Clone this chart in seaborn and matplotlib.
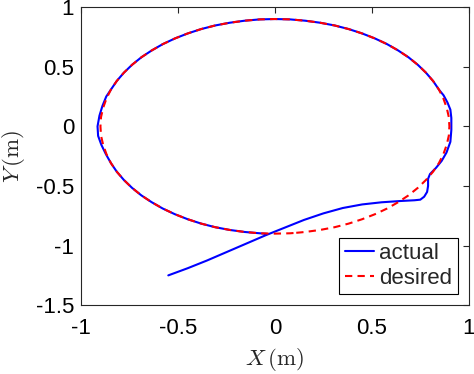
"""Trajectoire suivie vs trajectoire désirée (plan XY)."""

import matplotlib
matplotlib.use('Agg')
import matplotlib.pyplot as plt
import seaborn as sns

# Trajectoire désirée
desired_x = [0.11, 0.156, 0.233, 0.308, 0.380, 0.45, 0.516, 0.579, 0.636, 0.689, 0.737,
             0.779, 0.816, 0.846, 0.869, 0.886, 0.897, 0.9,
             0.897, 0.886, 0.869, 0.846, 0.816, 0.779, 0.737, 0.689, 0.636, 0.579,
             0.516, 0.45, 0.380, 0.308, 0.233, 0.156, 0.078, 0.0,
             -0.078, -0.156, -0.233, -0.308, -0.380, -0.45, -0.516, -0.579, -0.636,
             -0.689, -0.737, -0.779, -0.816, -0.846, -0.869, -0.886, -0.897, -0.9,
             -0.897, -0.886, -0.869, -0.846, -0.816, -0.779, -0.737, -0.689, -0.636,
             -0.579, -0.516, -0.45, -0.380, -0.308, -0.233, -0.156, -0.078, 0.0,
             0.078, 0.11]
desired_y = [-0.893, -0.886, -0.869, -0.846, -0.816, -0.779, -0.737, -0.689, -0.636,
             -0.579, -0.516, -0.45, -0.380, -0.308, -0.233, -0.156, -0.078, 0.0,
             0.078, 0.156, 0.233, 0.308, 0.380, 0.45, 0.516, 0.579, 0.636, 0.689,
             0.737, 0.779, 0.816, 0.846, 0.869, 0.886, 0.897, 0.9,
             0.897, 0.886, 0.869, 0.846, 0.816, 0.779, 0.737, 0.689, 0.636, 0.579,
             0.516, 0.45, 0.380, 0.308, 0.233, 0.156, 0.078, 0.0,
             -0.078, -0.156, -0.233, -0.308, -0.380, -0.45, -0.516, -0.579, -0.636,
             -0.689, -0.737, -0.779, -0.816, -0.846, -0.869, -0.886, -0.897, -0.9,
             -0.897, -0.893]

# Trajectoire réelle
actual_x = [-0.55, -0.45, -0.35, -0.25, -0.15, -0.05, 0.05, 0.15, 0.25, 0.35, 0.45,
            0.55, 0.65, 0.72, 0.75, 0.77, 0.785, 0.79, 0.79, 0.80, 0.83, 0.86, 0.885,
            0.905, 0.91, 0.91, 0.905, 0.89, 0.87, 0.846, 0.816, 0.779, 0.737, 0.689,
            0.636, 0.579, 0.516, 0.45, 0.380, 0.308, 0.233, 0.156, 0.078, 0.0,
            -0.078, -0.156, -0.233, -0.308, -0.380, -0.45, -0.516, -0.579, -0.636,
            -0.689, -0.737, -0.779, -0.816, -0.846, -0.87, -0.89, -0.905, -0.915,
            -0.912, -0.895, -0.872, -0.846, -0.816, -0.779, -0.737, -0.689, -0.636,
            -0.579, -0.516, -0.45, -0.380, -0.308, -0.233, -0.156, -0.078, -0.04]
actual_y = [-1.25, -1.19, -1.125, -1.055, -0.985, -0.915, -0.85, -0.785, -0.73, -0.685,
            -0.655, -0.637, -0.626, -0.62, -0.615, -0.59, -0.55, -0.5, -0.44, -0.40,
            -0.35, -0.29, -0.22, -0.13, -0.03, 0.07, 0.14, 0.2, 0.26, 0.308, 0.380,
            0.45, 0.516, 0.579, 0.636, 0.689, 0.737, 0.779, 0.816, 0.846, 0.869,
            0.886, 0.897, 0.9, 0.897, 0.886, 0.869, 0.846, 0.816, 0.779, 0.737, 0.689,
            0.636, 0.579, 0.516, 0.45, 0.380, 0.308, 0.25, 0.17, 0.09, 0.0, -0.08,
            -0.156, -0.233, -0.308, -0.380, -0.45, -0.516, -0.579, -0.636, -0.689,
            -0.737, -0.779, -0.816, -0.846, -0.869, -0.886, -0.897, -0.902]

x_ticks = [-1, -0.5, 0, 0.5, 1]
x_labels = ['-1', '-0.5', '0', '0.5', '1']
y_ticks = [-1.5, -1, -0.5, 0, 0.5, 1]
y_labels = ['-1.5', '-1', '-0.5', '0', '0.5', '1']


def main():
    sns.set_style('white')
    plt.rcParams['font.family'] = ['Liberation Sans', 'DejaVu Sans']
    plt.rcParams['mathtext.fontset'] = 'cm'
    plt.rcParams['axes.unicode_minus'] = False

    fig = plt.figure(figsize=(4.74, 3.74), dpi=100)
    ax = fig.add_axes([0.171, 0.184, 0.818, 0.797])

    sns.lineplot(x=actual_x, y=actual_y, sort=False, estimator=None, ax=ax,
                 color='#0000ff', linewidth=1.5, label='actual')
    sns.lineplot(x=desired_x, y=desired_y, sort=False, estimator=None, ax=ax,
                 color='#ff0000', linewidth=1.5, label='desired')
    ax.lines[1].set_dashes((3.5, 2.5))

    ax.set_xlim(-1, 1)
    ax.set_ylim(-1.5, 1)
    ax.set_xticks(x_ticks)
    ax.set_xticklabels(x_labels)
    ax.set_yticks(y_ticks)
    ax.set_yticklabels(y_labels)
    ax.tick_params(direction='in', length=4, width=0.8, colors='#262626',
                   labelsize=16, labelcolor='black', top=True, right=True)
    ax.tick_params(axis='x', pad=9)
    ax.tick_params(axis='y', pad=5)
    for s in ax.spines.values():
        s.set_color('#262626')
        s.set_linewidth(0.8)

    ax.set_xlabel(r'$X\,(\mathrm{m})$', fontsize=16.5, labelpad=5)
    ax.set_ylabel(r'$Y\,(\mathrm{m})$', fontsize=16.5, labelpad=6)

    leg = ax.legend(loc='lower right', fontsize=16, frameon=True, fancybox=False,
                    framealpha=1, edgecolor='black', handlelength=1.3,
                    handletextpad=0.25, borderpad=0.25, labelspacing=0.15,
                    borderaxespad=0.5)
    leg.get_frame().set_linewidth(0.8)

    fig.savefig('out.png', dpi=100)


if __name__ == '__main__':
    main()
